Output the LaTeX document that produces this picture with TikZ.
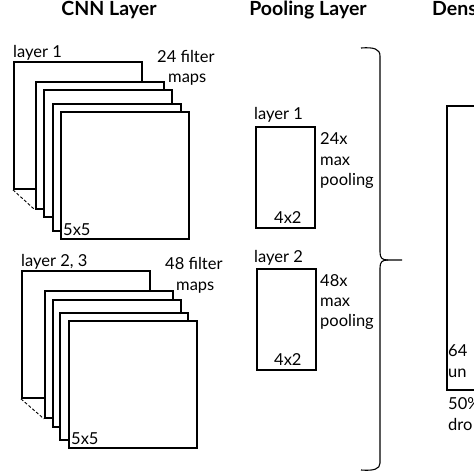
\documentclass[tikz,border=0pt]{standalone}
\usepackage{fontspec}
\setmainfont{Lato}
\begin{document}
\begin{tikzpicture}[x=1pt,y=-1pt,
  sq/.style={draw=black,fill=white,line width=1.9pt,inner sep=0pt,anchor=north west,minimum width=128pt,minimum height=127pt},
  pool/.style={draw=black,fill=white,line width=1.9pt,inner sep=0pt,anchor=north west,minimum width=59pt,minimum height=101pt},
  lbl/.style={inner sep=0pt,anchor=base west,font=\fontsize{16.5}{20.5}\selectfont},
  ttl/.style={inner sep=0pt,anchor=base,font=\fontsize{19.5}{23}\selectfont\bfseries},
  dsh/.style={dashed,line width=0.9pt,dash pattern=on 3pt off 2pt},
  brc/.style={draw=black,line width=1.1pt}]
\useasboundingbox (0,0) rectangle (474,474);
\clip (0,0) rectangle (474,474);
% titles
\node[ttl] (t1) at (109,15) {CNN Layer};
\node[ttl] (t2) at (308,15) {Pooling Layer};
\node[ttl,anchor=base west] (t3) at (432,15) {Dens};
% CNN stack 1
\node[sq] (a1) at (13,61) {};
\node[sq] (a2) at (35,81) {};
\node[sq] (a3) at (43,89) {};
\node[sq] (a4) at (52,103) {};
\node[sq] (a5) at (60,111) {};
\draw[dsh] (a1.south west) -- (a2.south west);
\node[lbl] (la1) at (13,57) {layer 1};
\node[lbl] (lf1) at (157,62) {24 filter};
\node[lbl] (lm1) at (168,82) {maps};
\node[lbl] (lk1) at (63,235) {5x5};
% CNN stack 2
\node[sq] (b1) at (21,270) {};
\node[sq] (b2) at (44,290) {};
\node[sq] (b3) at (52,299) {};
\node[sq] (b4) at (59,312) {};
\node[sq] (b5) at (68,320) {};
\draw[dsh] (b1.south west) -- (b2.south west);
\node[lbl] (la2) at (21,266) {layer 2, 3};
\node[lbl] (lf2) at (165,269) {48 filter};
\node[lbl] (lm2) at (176,290) {maps};
\node[lbl] (lk2) at (71,444) {5x5};
% pooling
\node[pool] (p1) at (255,126) {};
\node[lbl] (lp1) at (254,119) {layer 1};
\node[lbl] (lp1a) at (320,144) {24x};
\node[lbl] (lp1c) at (320,165) {max};
\node[lbl] (lp1d) at (320,185) {pooling};
\node[lbl] (lp1b) at (274,223) {4x2};
\node[pool] (p2) at (256,268) {};
\node[lbl] (lp2) at (254,262) {layer 2};
\node[lbl] (lp2a) at (320,286) {48x};
\node[lbl] (lp2c) at (320,306) {max};
\node[lbl] (lp2d) at (320,326) {pooling};
\node[lbl] (lp2b) at (274,365) {4x2};
% brace
\coordinate (bt) at (361,48);
\coordinate (bb) at (361,470);
\coordinate (bm) at (402,260);
\draw[brc] (bt) .. controls (374,47) and (380,49) .. (380,56) -- (380,252)
  .. controls (380,258) and (382,260) .. (388,260) -- (bm);
\draw[brc] (bb) .. controls (374,471) and (380,469) .. (380,463) -- (380,268)
  .. controls (380,262) and (382,260) .. (388,260);
% dense
\node[draw=black,line width=1.9pt,inner sep=0pt,anchor=north west,minimum width=60pt,minimum height=284pt] (d1) at (446,105) {};
\node[lbl] (ld1) at (448,356) {64};
\node[lbl] (ld2) at (448,377) {un};
\node[lbl] (ld3) at (448,409) {50\%};
\node[lbl] (ld4) at (448,430) {dro};
\end{tikzpicture}
\end{document}
